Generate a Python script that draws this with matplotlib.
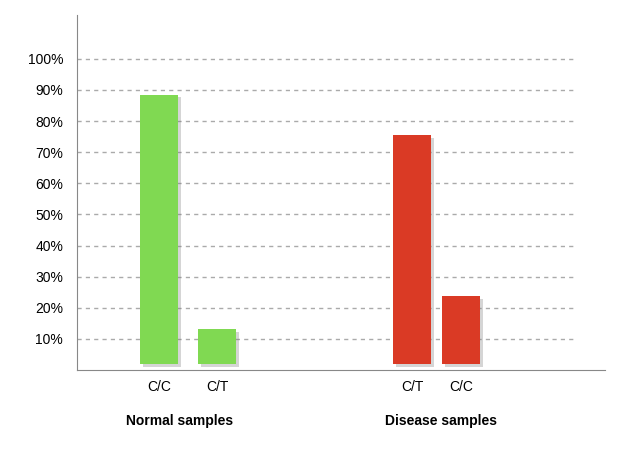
import matplotlib.pyplot as plt
import matplotlib.patheffects as pe

# values in percent
genotypes = ['C/C', 'C/T', 'C/T', 'C/C']
values = [88.5, 13.2, 75.6, 23.8]
colors = ['#80d952', '#80d952', '#da3a25', '#da3a25']
groups = ['Normal samples', 'Disease samples']
yticks = [10, 20, 30, 40, 50, 60, 70, 80, 90, 100]

# bar centres in axis units (axis spans 0..528)
xpos = [82, 140.5, 335, 384.5]
group_x = [103, 364]

fig = plt.figure(figsize=(6.27, 4.5), dpi=100)
ax = fig.add_axes([77 / 627, 1 - 370 / 450, 528 / 627, 355 / 450])
ax.set_xlim(0, 528)
ax.set_ylim(0, 114.1)

for y in yticks:
    ax.axhline(y, xmin=0, xmax=496 / 528, color='#aaaaaa', lw=1, ls=(0, (3, 3)), zorder=1)

bars = ax.bar(xpos, [v - 2 for v in values], bottom=2, width=38, color=colors, zorder=3)
for b in bars:
    b.set_path_effects([pe.SimplePatchShadow(offset=(2, -2), shadow_rgbFace='#777777', alpha=0.3), pe.Normal()])

ax.set_yticks(yticks)
ax.set_yticklabels([f'{y}%' for y in yticks], fontsize=10, fontfamily='Liberation Sans')
ax.tick_params(axis='y', length=0, pad=10)
ax.set_xticks([])
for s in ['top', 'right']:
    ax.spines[s].set_visible(False)
ax.spines['left'].set_color('#888888')
ax.spines['bottom'].set_color('#888888')

for x, g in zip(xpos, genotypes):
    ax.text(x, -5.5, g, ha='center', va='center', fontsize=10, fontfamily='Liberation Sans')
for x, g in zip(group_x, groups):
    ax.text(x, -16.5, g, ha='center', va='center', fontsize=10, fontweight='bold', fontfamily='Liberation Sans')

fig.savefig('out.png', dpi=100)
